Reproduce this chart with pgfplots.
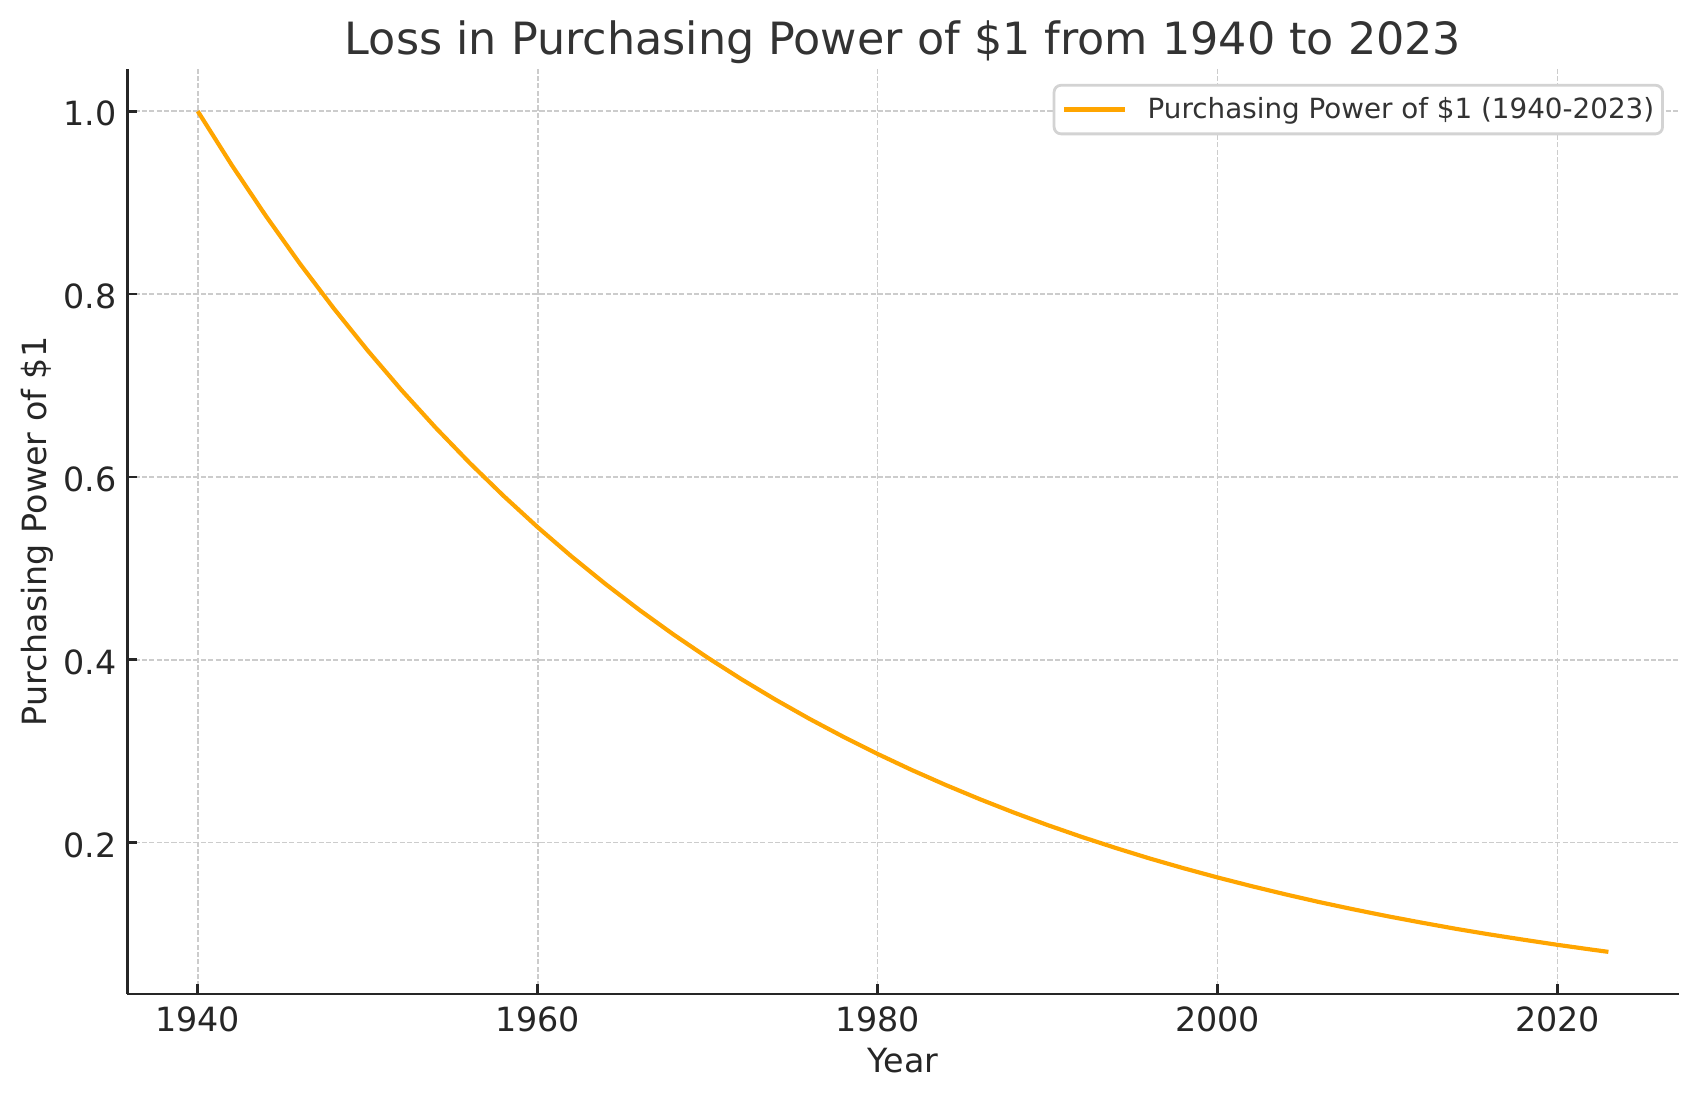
\documentclass[border=0pt]{standalone}
\usepackage{fontspec}
\setmainfont{DejaVu Sans}
\usepackage{pgfplots}
\pgfplotsset{compat=1.18}
\usepackage{pgfplotstable}

\definecolor{lineorange}{HTML}{FFA500}
\definecolor{gridgray}{HTML}{CCCCCC}
\definecolor{spine}{HTML}{262626}
\definecolor{titlegray}{HTML}{333333}
\definecolor{legendgray}{HTML}{D3D3D3}

% purchasing power of $1
\pgfplotstableread{
year power
1940 1.0000
1942 0.9411
1944 0.8857
1946 0.8335
1948 0.7844
1950 0.7382
1952 0.6947
1954 0.6538
1956 0.6153
1958 0.5791
1960 0.5450
1962 0.5129
1964 0.4827
1966 0.4543
1968 0.4275
1970 0.4023
1972 0.3786
1974 0.3563
1976 0.3353
1978 0.3156
1980 0.2970
1982 0.2795
1984 0.2631
1986 0.2476
1988 0.2330
1990 0.2192
1992 0.2063
1994 0.1942
1996 0.1827
1998 0.1720
2000 0.1619
2002 0.1524
2004 0.1434
2006 0.1349
2008 0.1270
2010 0.1195
2012 0.1125
2014 0.1058
2016 0.0996
2018 0.0938
2020 0.0882
2022 0.0830
2023 0.0805
}\powertable

\begin{document}
\begin{tikzpicture}
    \useasboundingbox (-45.8bp,-38.5bp) rectangle (565.1bp,357.8bp);
    \begin{axis}[
        at={(0,0)}, anchor=south west,
        width=558.6bp, height=332.9bp,
        scale only axis,
        xmin=1935.85, xmax=2027.15,
        ymin=0.0345, ymax=1.046,
        axis x line*=bottom,
        axis y line*=left,
        axis line style={line width=1bp, color=spine},
        tick align=inside,
        major tick length=3.5bp,
        tick style={line width=1bp, color=spine},
        xtick={1940,1960,1980,2000,2020},
        ytick={0.2,0.4,0.6,0.8,1.0},
        grid=major,
        grid style={gridgray, line width=0.6bp, dash pattern=on 1.85bp off 0.8bp},
        /pgf/number format/assume math mode=true,
        xticklabel style={/pgf/number format/1000 sep={}, font=\fontsize{12bp}{14bp}\selectfont,
            text=spine, inner sep=0pt, anchor=north, yshift=-4.3bp},
        yticklabel style={/pgf/number format/.cd, fixed, fixed zerofill, precision=1,
            /tikz/.cd, font=\fontsize{12bp}{14bp}\selectfont, text=spine,
            inner sep=0pt, anchor=east, xshift=-3.7bp, yshift=-0.9bp},
        xlabel={Year},
        ylabel={Purchasing Power of \$1},
        xlabel style={font=\fontsize{12bp}{14bp}\selectfont, text=spine, inner sep=0pt,
            at={(axis description cs:0.5,0)}, anchor=base, yshift=-28.3bp},
        ylabel style={font=\fontsize{12bp}{14bp}\selectfont, text=spine, inner sep=0pt,
            at={([xshift=-29.2bp]axis description cs:0,0.5)}, anchor=base},
        title={Loss in Purchasing Power of \$1 from 1940 to 2023},
        every axis title/.style={font=\fontsize{16bp}{19bp}\selectfont, text=titlegray,
            inner sep=0pt, at={([yshift=5.2bp]axis description cs:0.5,1)}, anchor=base},
        legend style={at={(1,1)}, anchor=north east, xshift=-5.4bp, yshift=-5.3bp,
            draw=legendgray, line width=1bp, rounded corners=2.5bp, fill=white,
            font=\fontsize{10bp}{12bp}\selectfont, text=titlegray,
            inner xsep=3bp, inner ysep=4.2bp, nodes={inner sep=0pt}, column sep=7.6bp},
        legend cell align=left,
        legend image code/.code={\draw[#1, line width=1.5bp] (0bp,0bp) -- (21.6bp,0bp);},
    ]
    \addplot[lineorange, line width=1.5bp, line join=round, mark=none]
        table[x=year, y=power] {\powertable};
    \addlegendentry{Purchasing Power of \$1 (1940-2023)}
    \end{axis}
\end{tikzpicture}
\end{document}
